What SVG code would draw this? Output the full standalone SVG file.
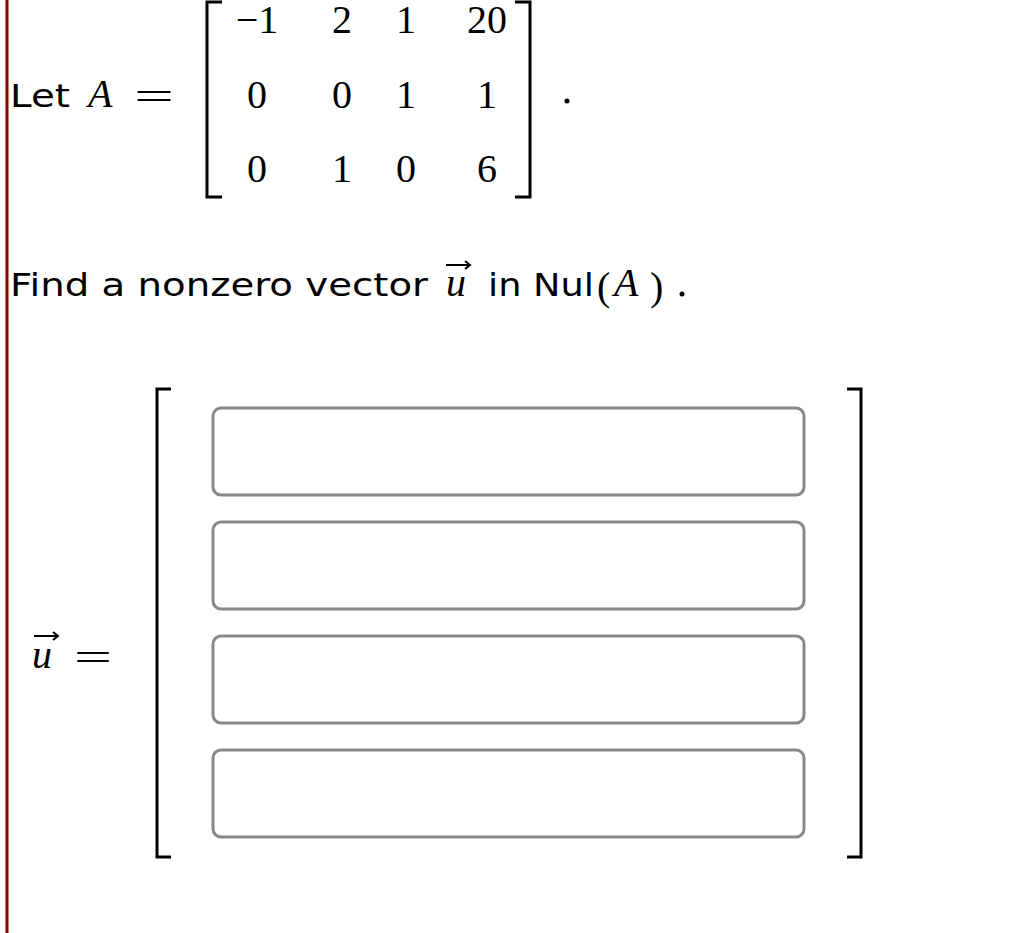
<svg xmlns="http://www.w3.org/2000/svg" width="1034" height="933" viewBox="0 0 1034 933">
<style>
.s{font-family:"DejaVu Sans","Noto Sans",sans-serif;font-size:32px;fill:#000}
.m{font-family:"Liberation Serif",serif;font-size:40px;fill:#000}
.i{font-style:italic}
.br{fill:none;stroke:#000;stroke-width:3}
.box{fill:#fff;stroke:#888;stroke-width:3}
.ar{fill:none;stroke:#000;stroke-width:2}
</style>
<rect width="1034" height="933" fill="#fff"/>
<line x1="7" y1="0" x2="7" y2="933" stroke="#8b0000" stroke-width="3"/>
<text class="s" x="10" y="107" textLength="60" lengthAdjust="spacingAndGlyphs">Let</text>
<text class="m i" x="88" y="107" font-size="44">A</text>
<text class="m" x="134" y="110" font-size="50" textLength="40" lengthAdjust="spacingAndGlyphs">=</text>
<path class="br" d="M222,2 H207 V197 H222"/>
<path class="br" d="M515,2 H530 V197 H515"/>
<g class="m" text-anchor="middle">
<text x="257" y="33">−1</text><text x="342" y="33">2</text><text x="406" y="33">1</text><text x="487" y="33">20</text>
<text x="257" y="108">0</text><text x="342" y="108">0</text><text x="406" y="108">1</text><text x="487" y="108">1</text>
<text x="257" y="182">0</text><text x="342" y="182">1</text><text x="406" y="182">0</text><text x="487" y="182">6</text>
</g>
<circle cx="567" cy="101" r="2.5" fill="#000"/>
<text class="s" x="10" y="296" textLength="418" lengthAdjust="spacingAndGlyphs">Find a nonzero vector</text>
<text class="m i" x="446" y="296" font-size="40">u</text>
<path class="ar" d="M446,265 H470 M465,261 L470,265 L465,269"/>
<text class="s" x="488" y="296" textLength="106" lengthAdjust="spacingAndGlyphs">in Nul</text>
<text class="m" x="597" y="300" font-size="50">(</text>
<text class="m i" x="614" y="296" font-size="44">A</text>
<text class="m" x="650" y="300" font-size="50">)</text>
<circle cx="682" cy="294" r="2.5" fill="#000"/>
<text class="m i" x="32" y="668" font-size="44">u</text>
<path class="ar" d="M34,636 H58 M53,632 L58,636 L53,640"/>
<text class="m" x="74" y="671" font-size="50" textLength="38" lengthAdjust="spacingAndGlyphs">=</text>
<path class="br" d="M171,389 H157 V857 H171"/>
<path class="br" d="M847,389 H861 V857 H847"/>
<rect class="box" x="213" y="408" width="591" height="87" rx="8"/>
<rect class="box" x="213" y="522" width="591" height="87" rx="8"/>
<rect class="box" x="213" y="636" width="591" height="87" rx="8"/>
<rect class="box" x="213" y="750" width="591" height="87" rx="8"/>
</svg>
